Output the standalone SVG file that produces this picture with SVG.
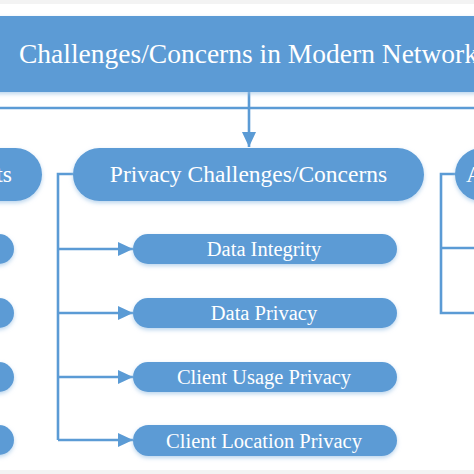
<svg xmlns="http://www.w3.org/2000/svg" width="474" height="474" viewBox="0 0 474 474">
<defs>
<style>
.box{fill:#5b9bd5;}
.shad{filter:url(#sh);}
.t{fill:#ffffff;font-family:"Liberation Serif","Times New Roman",serif;text-anchor:middle;}
.conn{fill:none;stroke:#5b9bd5;stroke-width:2.6;}
</style>
<filter id="sh" x="-10%" y="-20%" width="120%" height="150%">
<feDropShadow dx="0" dy="2" stdDeviation="2" flood-color="#9dc3e6" flood-opacity="0.7"/>
</filter>
<marker id="ah" markerUnits="userSpaceOnUse" markerWidth="16" markerHeight="16" refX="15" refY="7" orient="auto">
<path d="M0,0 L15,7 L0,14 Z" fill="#5b9bd5"/>
</marker>
</defs>
<rect width="474" height="474" fill="#ffffff"/>
<rect x="0" y="0" width="474" height="4" fill="#f3f3f3"/>
<rect x="0" y="470" width="474" height="4" fill="#f3f3f3"/>

<g id="connectors">
<line class="conn" x1="0" y1="108" x2="474" y2="108"/>
<line class="conn" x1="249" y1="92" x2="249" y2="147" marker-end="url(#ah)"/>
<path class="conn" d="M73,174 H58 V440"/>
<line class="conn" x1="58" y1="249" x2="133" y2="249" marker-end="url(#ah)"/>
<line class="conn" x1="58" y1="313" x2="133" y2="313" marker-end="url(#ah)"/>
<line class="conn" x1="58" y1="377" x2="133" y2="377" marker-end="url(#ah)"/>
<line class="conn" x1="58" y1="440" x2="133" y2="440" marker-end="url(#ah)"/>
<path class="conn" d="M457,174 H441 V313 H474"/>
<line class="conn" x1="441" y1="248" x2="474" y2="248"/>
</g>

<g id="root">
<rect class="box shad" x="-5" y="16" width="490" height="76"/>
<text class="t" x="19" y="63" font-size="27.5" style="text-anchor:start">Challenges/Concerns in Modern Networks</text>
</g>

<g id="left-category">
<rect class="box shad" x="-100" y="148" width="142" height="53" rx="26.5"/>
<text class="t" x="12" y="182" font-size="23.5" style="text-anchor:end">ts</text>
</g>
<g id="left-item-1"><rect class="box shad" x="-100" y="234" width="114" height="30" rx="15"/></g>
<g id="left-item-2"><rect class="box shad" x="-100" y="298" width="114" height="30" rx="15"/></g>
<g id="left-item-3"><rect class="box shad" x="-100" y="362" width="114" height="30" rx="15"/></g>
<g id="left-item-4"><rect class="box shad" x="-100" y="425" width="114" height="30" rx="15"/></g>

<g id="privacy">
<rect class="box shad" x="73" y="148" width="351" height="53" rx="26.5"/>
<text class="t" x="248.5" y="182" font-size="23.5">Privacy Challenges/Concerns</text>
</g>

<g id="data-integrity">
<rect class="box shad" x="133" y="234" width="264" height="30" rx="15"/>
<text class="t" x="264" y="256" font-size="20.5">Data Integrity</text>
</g>
<g id="data-privacy">
<rect class="box shad" x="133" y="298" width="264" height="30" rx="15"/>
<text class="t" x="264" y="320" font-size="20.5">Data Privacy</text>
</g>
<g id="client-usage-privacy">
<rect class="box shad" x="133" y="362" width="264" height="30" rx="15"/>
<text class="t" x="264" y="384" font-size="20.5">Client Usage Privacy</text>
</g>
<g id="client-location-privacy">
<rect class="box shad" x="133" y="425" width="264" height="31" rx="15.5"/>
<text class="t" x="264" y="447.5" font-size="20.5">Client Location Privacy</text>
</g>

<g id="right-category">
<rect class="box shad" x="455" y="148" width="200" height="53" rx="26.5"/>
<text class="t" x="466" y="182" font-size="23.5" style="text-anchor:start">A</text>
</g>
</svg>
